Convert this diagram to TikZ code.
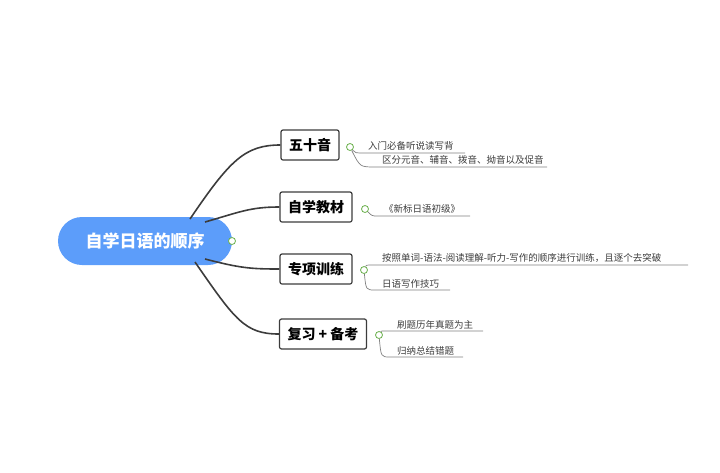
\documentclass[tikz,border=0pt]{standalone}
\usepackage{fontspec}
\setmainfont{Noto Sans CJK SC}
\definecolor{rootblue}{HTML}{5C9DFA}
\definecolor{linegray}{HTML}{3C3C3C}
\definecolor{foldgreen}{HTML}{6AB04C}
\begin{document}
\begin{tikzpicture}[x=1pt,y=-1pt,
    topic/.style={draw=linegray,line width=1.2pt,rounded corners=2pt,minimum height=30pt,inner xsep=8pt,font=\fontsize{14}{16}\selectfont\bfseries},
    leaf/.style={anchor=south west,inner sep=1pt,font=\fontsize{9.5}{11}\selectfont,text=linegray},
    branch/.style={draw=linegray,line width=1.6pt},
    twig/.style={draw=gray,line width=0.7pt},
    fold/.style={circle,draw=foldgreen,fill=white,line width=0.8pt,minimum size=7pt,inner sep=0pt}]
  \useasboundingbox (0,0) rectangle (720,472);

  \node[fill=rootblue,rounded corners=24pt,minimum width=174pt,minimum height=48pt,text=white,font=\fontsize{17}{20}\selectfont\bfseries] (root) at (145,241) {自学日语的顺序};
  \node[fold] (rootfold) at (232,241) {};

  \node[topic] (wushi) at (310,145) {五十音};
  \node[topic] (jiaocai) at (316,207) {自学教材};
  \node[topic] (zhuanxiang) at (316,269) {专项训练};
  \node[topic] (fuxi) at (323,334) {复习 + 备考};

  \draw[branch] (190,219) .. controls (230,160) and (245,145) .. (wushi.west);
  \draw[branch] (205,222) .. controls (240,212) and (250,207) .. (jiaocai.west);
  \draw[branch] (205,259) .. controls (240,268) and (250,269) .. (zhuanxiang.west);
  \draw[branch] (195,262) .. controls (235,320) and (245,334) .. (fuxi.west);

  % leaves
  \coordinate (w1) at (365,153); \coordinate (w1e) at (465,153);
  \coordinate (w2) at (375,167); \coordinate (w2e) at (547,167);
  \coordinate (j1) at (378,216); \coordinate (j1e) at (470,216);
  \coordinate (z1) at (375,265); \coordinate (z1e) at (688,265);
  \coordinate (z2) at (375,290); \coordinate (z2e) at (450,290);
  \coordinate (f1) at (390,331); \coordinate (f1e) at (483,331);
  \coordinate (f2) at (390,357); \coordinate (f2e) at (463,357);

  \node[fold] (wfold) at (350,147) {};
  \node[fold] (jfold) at (365,209) {};
  \node[fold] (zfold) at (364,270) {};
  \node[fold] (ffold) at (379,335) {};

  \draw[twig] (wfold) .. controls (355,153) .. (w1) -- (w1e);
  \draw[twig] (wfold) .. controls (360,167) .. (w2) -- (w2e);
  \draw[twig] (jfold) .. controls (372,216) .. (j1) -- (j1e);
  \draw[twig] (zfold) .. controls (366,265) .. (z1) -- (z1e);
  \draw[twig] (zfold) .. controls (366,290) .. (z2) -- (z2e);
  \draw[twig] (ffold) .. controls (381,331) .. (f1) -- (f1e);
  \draw[twig] (ffold) .. controls (381,357) .. (f2) -- (f2e);

  \node[leaf] (w1t) at (367,152) {入门必备听说读写背};
  \node[leaf] (w2t) at (381,166) {区分元音、辅音、拨音、拗音以及促音};
  \node[leaf] (j1t) at (383,215) {《新标日语初级》};
  \node[leaf] (z1t) at (381,264) {按照单词-语法-阅读理解-听力-写作的顺序进行训练，且逐个去突破};
  \node[leaf] (z2t) at (381,289) {日语写作技巧};
  \node[leaf] (f1t) at (396,330) {刷题历年真题为主};
  \node[leaf] (f2t) at (396,356) {归纳总结错题};
\end{tikzpicture}
\end{document}
